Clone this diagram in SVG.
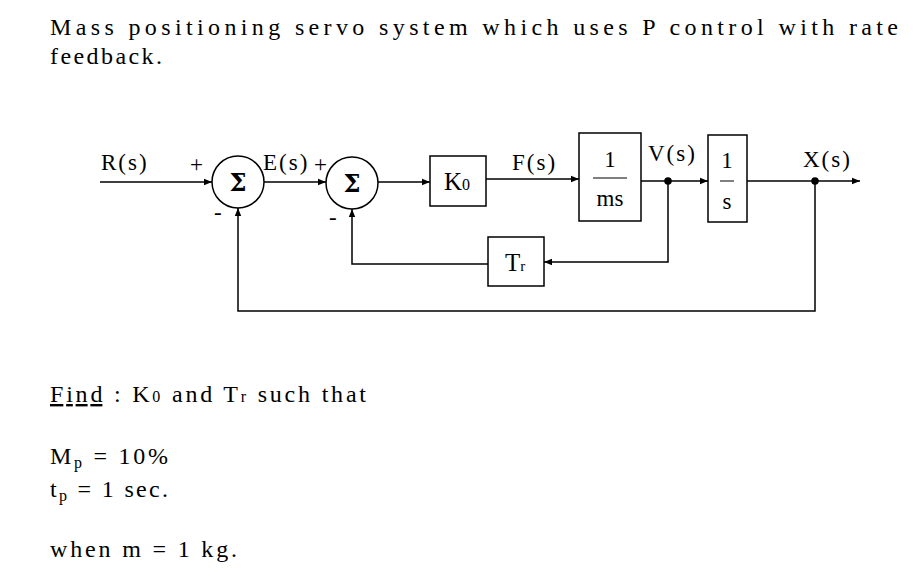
<svg xmlns="http://www.w3.org/2000/svg" width="918" height="574" viewBox="0 0 918 574">
<defs><marker id="a" viewBox="0 0 10 10" refX="10" refY="5" markerWidth="10" markerHeight="8" markerUnits="userSpaceOnUse" orient="auto"><path d="M0,1 L10,5 L0,9 z" fill="#000"/></marker></defs>
<style>text{font-family:"Liberation Serif",serif;fill:#000}.t{font-size:24px}.l{font-size:23px;letter-spacing:2px}.s{font-size:24px;font-weight:bold;font-family:"DejaVu Serif",serif}rect,circle{fill:#fff;stroke:#000;stroke-width:1.5}.c{fill:none;stroke:#000;stroke-width:1.5}</style>
<rect x="0" y="0" width="918" height="574" style="stroke:none"/>
<text class="t" x="50" y="35" textLength="848">Mass positioning servo system which uses P control with rate</text>
<text class="t" x="50" y="64" textLength="112">feedback.</text>
<g id="connectors">
<path class="c" d="M100,182 H212" marker-end="url(#a)"/>
<path class="c" d="M264,182 H326" marker-end="url(#a)"/>
<path class="c" d="M378,182 H430" marker-end="url(#a)"/>
<path class="c" d="M486,179 H579" marker-end="url(#a)"/>
<path class="c" d="M641,181 H708" marker-end="url(#a)"/>
<path class="c" d="M747,181 H860" marker-end="url(#a)"/>
<path class="c" d="M668,181 V262 H544" marker-end="url(#a)"/>
<path class="c" d="M488,264 H352 V209" marker-end="url(#a)"/>
<path class="c" d="M815,181 V311 H238 V208" marker-end="url(#a)"/>
<circle cx="668" cy="181" r="3" style="fill:#000"/>
<circle cx="815" cy="181" r="3" style="fill:#000"/>
</g>
<g id="sum1"><circle cx="238" cy="182" r="26"/><text class="s" x="238" y="191" text-anchor="middle">Σ</text></g>
<g id="sum2"><circle cx="352" cy="183" r="26"/><text class="s" x="352" y="192" text-anchor="middle">Σ</text></g>
<g id="k0"><rect x="430" y="156" width="56" height="50"/><text style="font-size:25px" x="444" y="190">K<tspan font-size="16">0</tspan></text></g>
<g id="ms"><rect x="579" y="133" width="62" height="88"/><text style="font-size:23px" x="610" y="167" text-anchor="middle">1</text><line x1="593" y1="178" x2="627" y2="178" stroke="#000"/><text style="font-size:23px" x="610" y="206" text-anchor="middle">ms</text></g>
<g id="s"><rect x="708" y="135" width="39" height="87"/><text style="font-size:23px" x="727" y="168" text-anchor="middle">1</text><line x1="720" y1="181" x2="734" y2="181" stroke="#000"/><text style="font-size:23px" x="727" y="209" text-anchor="middle">s</text></g>
<g id="tr"><rect x="488" y="237" width="56" height="49"/><text style="font-size:25px" x="505" y="271">T<tspan font-size="15">r</tspan></text></g>
<text class="l" x="101" y="170">R(s)</text>
<text class="l" x="190" y="172">+</text>
<text class="l" x="214" y="220">-</text>
<text class="l" x="263" y="170">E(s)</text>
<text class="l" x="314" y="172">+</text>
<text class="l" x="329" y="225">-</text>
<text class="l" x="512" y="170">F(s)</text>
<text class="l" x="648" y="161">V(s)</text>
<text class="l" x="803" y="167">X(s)</text>
<text class="t" x="50" y="402" textLength="316"><tspan text-decoration="underline">Find</tspan> : K<tspan font-size="16">0</tspan> and T<tspan font-size="16">r</tspan> such that</text>
<text class="t" x="50" y="464" textLength="118">M<tspan font-size="16" dy="4">p</tspan><tspan dy="-4"> = 10%</tspan></text>
<text class="t" x="50" y="497" textLength="118">t<tspan font-size="16" dy="4">p</tspan><tspan dy="-4"> = 1 sec.</tspan></text>
<text class="t" x="50" y="557" textLength="187">when m = 1 kg.</text>
</svg>
